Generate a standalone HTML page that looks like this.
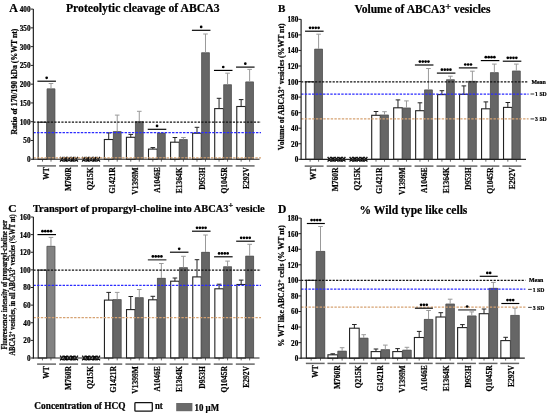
<!DOCTYPE html>
<html><head><meta charset="utf-8"><style>
html,body{margin:0;padding:0;background:#fff;}
svg{display:block;will-change:transform;filter:blur(0.3px);}
</style></head><body>
<svg width="550" height="415" viewBox="0 0 550 415">
<rect width="550" height="415" fill="#fff"/>
<line x1="30.75" y1="159.25" x2="33.35" y2="159.25" stroke="#222" stroke-width="1"/>
<text x="30.5" y="162.2" font-family="Liberation Serif, serif" font-weight="bold" stroke="#000" stroke-width="0.22" font-size="7.6" text-anchor="end" textLength="3.6" lengthAdjust="spacingAndGlyphs">0</text>
<line x1="30.75" y1="140.48" x2="33.35" y2="140.48" stroke="#222" stroke-width="1"/>
<text x="30.5" y="143.43" font-family="Liberation Serif, serif" font-weight="bold" stroke="#000" stroke-width="0.22" font-size="7.6" text-anchor="end" textLength="7.2" lengthAdjust="spacingAndGlyphs">50</text>
<line x1="30.75" y1="121.71" x2="33.35" y2="121.71" stroke="#222" stroke-width="1"/>
<text x="30.5" y="124.66" font-family="Liberation Serif, serif" font-weight="bold" stroke="#000" stroke-width="0.22" font-size="7.6" text-anchor="end" textLength="10.8" lengthAdjust="spacingAndGlyphs">100</text>
<line x1="30.75" y1="102.94" x2="33.35" y2="102.94" stroke="#222" stroke-width="1"/>
<text x="30.5" y="105.89" font-family="Liberation Serif, serif" font-weight="bold" stroke="#000" stroke-width="0.22" font-size="7.6" text-anchor="end" textLength="10.8" lengthAdjust="spacingAndGlyphs">150</text>
<line x1="30.75" y1="84.17" x2="33.35" y2="84.17" stroke="#222" stroke-width="1"/>
<text x="30.5" y="87.12" font-family="Liberation Serif, serif" font-weight="bold" stroke="#000" stroke-width="0.22" font-size="7.6" text-anchor="end" textLength="10.8" lengthAdjust="spacingAndGlyphs">200</text>
<line x1="30.75" y1="65.4" x2="33.35" y2="65.4" stroke="#222" stroke-width="1"/>
<text x="30.5" y="68.35" font-family="Liberation Serif, serif" font-weight="bold" stroke="#000" stroke-width="0.22" font-size="7.6" text-anchor="end" textLength="10.8" lengthAdjust="spacingAndGlyphs">250</text>
<line x1="30.75" y1="46.63" x2="33.35" y2="46.63" stroke="#222" stroke-width="1"/>
<text x="30.5" y="49.58" font-family="Liberation Serif, serif" font-weight="bold" stroke="#000" stroke-width="0.22" font-size="7.6" text-anchor="end" textLength="10.8" lengthAdjust="spacingAndGlyphs">300</text>
<line x1="30.75" y1="27.86" x2="33.35" y2="27.86" stroke="#222" stroke-width="1"/>
<text x="30.5" y="30.81" font-family="Liberation Serif, serif" font-weight="bold" stroke="#000" stroke-width="0.22" font-size="7.6" text-anchor="end" textLength="10.8" lengthAdjust="spacingAndGlyphs">350</text>
<line x1="30.75" y1="9.09" x2="33.35" y2="9.09" stroke="#222" stroke-width="1"/>
<text x="30.5" y="12.04" font-family="Liberation Serif, serif" font-weight="bold" stroke="#000" stroke-width="0.22" font-size="7.6" text-anchor="end" textLength="10.8" lengthAdjust="spacingAndGlyphs">400</text>
<rect x="38.15" y="122.2" width="8.7" height="37.05" fill="#fff" stroke="#222" stroke-width="1.1"/>
<rect x="46.85" y="88.6" width="8.3" height="70.65" fill="#666"/>
<path d="M47.15 159.25V88.9H54.85V159.25" stroke="#555" stroke-width="0.7" fill="none"/>
<path d="M51 88.6V83.5M48.7 83.5H53.3" stroke="#999" stroke-width="1" fill="none"/>
<path d="M60.12 156.85L63.34 161.65M60.12 161.65L63.34 156.85M63.74 156.85L66.96 161.65M63.74 161.65L66.96 156.85M67.36 156.85L70.58 161.65M67.36 161.65L70.58 156.85M70.98 156.85L74.2 161.65M70.98 161.65L74.2 156.85M74.6 156.85L77.82 161.65M74.6 161.65L77.82 156.85" stroke="#111" stroke-width="1.3" fill="none"/>
<ellipse cx="65.35" cy="159.45" rx="1.9" ry="2.1" fill="#000"/>
<ellipse cx="72.59" cy="159.45" rx="1.9" ry="2.1" fill="#000"/>
<path d="M82.19 156.85L85.41 161.65M82.19 161.65L85.41 156.85M85.81 156.85L89.03 161.65M85.81 161.65L89.03 156.85M89.43 156.85L92.65 161.65M89.43 161.65L92.65 156.85M93.05 156.85L96.27 161.65M93.05 161.65L96.27 156.85M96.67 156.85L99.89 161.65M96.67 161.65L99.89 156.85" stroke="#111" stroke-width="1.3" fill="none"/>
<ellipse cx="87.42" cy="159.45" rx="1.9" ry="2.1" fill="#000"/>
<ellipse cx="94.66" cy="159.45" rx="1.9" ry="2.1" fill="#000"/>
<rect x="104.36" y="139.5" width="8.7" height="19.75" fill="#fff" stroke="#222" stroke-width="1.1"/>
<rect x="113.06" y="131.3" width="8.3" height="27.95" fill="#666"/>
<path d="M113.36 159.25V131.6H121.06V159.25" stroke="#555" stroke-width="0.7" fill="none"/>
<path d="M108.71 139.5V132.9M106.41 132.9H111.01" stroke="#222" stroke-width="1" fill="none"/>
<path d="M117.21 131.3V115.1M114.91 115.1H119.51" stroke="#999" stroke-width="1" fill="none"/>
<rect x="126.43" y="137.3" width="8.7" height="21.95" fill="#fff" stroke="#222" stroke-width="1.1"/>
<rect x="135.13" y="121.4" width="8.3" height="37.85" fill="#666"/>
<path d="M135.43 159.25V121.7H143.13V159.25" stroke="#555" stroke-width="0.7" fill="none"/>
<path d="M130.78 137.3V134.4M128.48 134.4H133.08" stroke="#222" stroke-width="1" fill="none"/>
<path d="M139.28 121.4V111.3M136.98 111.3H141.58" stroke="#999" stroke-width="1" fill="none"/>
<rect x="148.5" y="149.1" width="8.7" height="10.15" fill="#fff" stroke="#222" stroke-width="1.1"/>
<rect x="157.2" y="132.9" width="8.3" height="26.35" fill="#666"/>
<path d="M157.5 159.25V133.2H165.2V159.25" stroke="#555" stroke-width="0.7" fill="none"/>
<path d="M152.85 149.1V147.6M150.55 147.6H155.15" stroke="#222" stroke-width="1" fill="none"/>
<rect x="170.57" y="142.2" width="8.7" height="17.05" fill="#fff" stroke="#222" stroke-width="1.1"/>
<rect x="179.27" y="139.3" width="8.3" height="19.95" fill="#666"/>
<path d="M179.57 159.25V139.6H187.27V159.25" stroke="#555" stroke-width="0.7" fill="none"/>
<path d="M174.92 142.2V137.5M172.62 137.5H177.22" stroke="#222" stroke-width="1" fill="none"/>
<path d="M183.42 139.3V137.5M181.12 137.5H185.72" stroke="#999" stroke-width="1" fill="none"/>
<rect x="192.64" y="133.2" width="8.7" height="26.05" fill="#fff" stroke="#222" stroke-width="1.1"/>
<rect x="201.34" y="52.5" width="8.3" height="106.75" fill="#666"/>
<path d="M201.64 159.25V52.8H209.34V159.25" stroke="#555" stroke-width="0.7" fill="none"/>
<path d="M196.99 133.2V127.3M194.69 127.3H199.29" stroke="#222" stroke-width="1" fill="none"/>
<path d="M205.49 52.5V34M203.19 34H207.79" stroke="#999" stroke-width="1" fill="none"/>
<rect x="214.71" y="108.6" width="8.7" height="50.65" fill="#fff" stroke="#222" stroke-width="1.1"/>
<rect x="223.41" y="84.5" width="8.3" height="74.75" fill="#666"/>
<path d="M223.71 159.25V84.8H231.41V159.25" stroke="#555" stroke-width="0.7" fill="none"/>
<path d="M219.06 108.6V98.3M216.76 98.3H221.36" stroke="#222" stroke-width="1" fill="none"/>
<path d="M227.56 84.5V73.2M225.26 73.2H229.86" stroke="#999" stroke-width="1" fill="none"/>
<rect x="236.78" y="106.5" width="8.7" height="52.75" fill="#fff" stroke="#222" stroke-width="1.1"/>
<rect x="245.48" y="81.7" width="8.3" height="77.55" fill="#666"/>
<path d="M245.78 159.25V82H253.48V159.25" stroke="#555" stroke-width="0.7" fill="none"/>
<path d="M241.13 106.5V99.6M238.83 99.6H243.43" stroke="#222" stroke-width="1" fill="none"/>
<path d="M249.63 81.7V69.4M247.33 69.4H251.93" stroke="#999" stroke-width="1" fill="none"/>
<path d="M42.5 159.25v2.4M51 159.25v2.4" stroke="#444" stroke-width="0.8"/>
<path d="M64.57 159.25v2.4M73.07 159.25v2.4" stroke="#444" stroke-width="0.8"/>
<path d="M86.64 159.25v2.4M95.14 159.25v2.4" stroke="#444" stroke-width="0.8"/>
<path d="M108.71 159.25v2.4M117.21 159.25v2.4" stroke="#444" stroke-width="0.8"/>
<path d="M130.78 159.25v2.4M139.28 159.25v2.4" stroke="#444" stroke-width="0.8"/>
<path d="M152.85 159.25v2.4M161.35 159.25v2.4" stroke="#444" stroke-width="0.8"/>
<path d="M174.92 159.25v2.4M183.42 159.25v2.4" stroke="#444" stroke-width="0.8"/>
<path d="M196.99 159.25v2.4M205.49 159.25v2.4" stroke="#444" stroke-width="0.8"/>
<path d="M219.06 159.25v2.4M227.56 159.25v2.4" stroke="#444" stroke-width="0.8"/>
<path d="M241.13 159.25v2.4M249.63 159.25v2.4" stroke="#444" stroke-width="0.8"/>
<line x1="33.35" y1="122.2" x2="261" y2="122.2" stroke="#111" stroke-width="1.25" stroke-dasharray="2.2 1.3"/>
<line x1="33.35" y1="132.5" x2="261" y2="132.5" stroke="#2a2aff" stroke-width="1.25" stroke-dasharray="2.4 1.25"/>
<line x1="33.35" y1="157.9" x2="261" y2="157.9" stroke="#d6a272" stroke-width="1.25" stroke-dasharray="2.4 1.3"/>
<line x1="33.35" y1="9.09" x2="33.35" y2="159.75" stroke="#222" stroke-width="1.2"/>
<line x1="32.75" y1="159.25" x2="259.5" y2="159.25" stroke="#222" stroke-width="1.2"/>
<line x1="37.4" y1="81.2" x2="55.95" y2="81.2" stroke="#000" stroke-width="1.15"/>
<circle cx="46.67" cy="77.8" r="1.35" fill="#000"/>
<line x1="147.75" y1="129.3" x2="166.3" y2="129.3" stroke="#000" stroke-width="1.15"/>
<circle cx="157.03" cy="125.9" r="1.35" fill="#000"/>
<line x1="191.89" y1="30.3" x2="210.44" y2="30.3" stroke="#000" stroke-width="1.15"/>
<circle cx="201.17" cy="26.9" r="1.35" fill="#000"/>
<line x1="213.96" y1="70.4" x2="232.51" y2="70.4" stroke="#000" stroke-width="1.15"/>
<circle cx="223.24" cy="67" r="1.35" fill="#000"/>
<line x1="236.03" y1="67.1" x2="254.58" y2="67.1" stroke="#000" stroke-width="1.15"/>
<circle cx="245.31" cy="63.7" r="1.35" fill="#000"/>
<line x1="37.05" y1="165.9" x2="55.95" y2="165.9" stroke="#666" stroke-width="1.5"/>
<text transform="translate(48.7,167.3) rotate(-90)" font-family="Liberation Serif, serif" font-weight="bold" stroke="#000" stroke-width="0.22" font-size="7.6" text-anchor="end" textLength="12.5" lengthAdjust="spacingAndGlyphs">WT</text>
<line x1="59.12" y1="165.9" x2="78.02" y2="165.9" stroke="#666" stroke-width="1.5"/>
<text transform="translate(70.96,167.3) rotate(-90)" font-family="Liberation Serif, serif" font-weight="bold" stroke="#000" stroke-width="0.22" font-size="7.6" text-anchor="end" textLength="23.75" lengthAdjust="spacingAndGlyphs">M760R</text>
<line x1="81.19" y1="165.9" x2="100.09" y2="165.9" stroke="#666" stroke-width="1.5"/>
<text transform="translate(93.22,167.3) rotate(-90)" font-family="Liberation Serif, serif" font-weight="bold" stroke="#000" stroke-width="0.22" font-size="7.6" text-anchor="end" textLength="22.92" lengthAdjust="spacingAndGlyphs">Q215K</text>
<line x1="103.26" y1="165.9" x2="122.16" y2="165.9" stroke="#666" stroke-width="1.5"/>
<text transform="translate(115.48,167.3) rotate(-90)" font-family="Liberation Serif, serif" font-weight="bold" stroke="#000" stroke-width="0.22" font-size="7.6" text-anchor="end" textLength="26.25" lengthAdjust="spacingAndGlyphs">G1421R</text>
<line x1="125.33" y1="165.9" x2="144.23" y2="165.9" stroke="#666" stroke-width="1.5"/>
<text transform="translate(137.74,167.3) rotate(-90)" font-family="Liberation Serif, serif" font-weight="bold" stroke="#000" stroke-width="0.22" font-size="7.6" text-anchor="end" textLength="27.49" lengthAdjust="spacingAndGlyphs">V1399M</text>
<line x1="147.4" y1="165.9" x2="166.3" y2="165.9" stroke="#666" stroke-width="1.5"/>
<text transform="translate(160,167.3) rotate(-90)" font-family="Liberation Serif, serif" font-weight="bold" stroke="#000" stroke-width="0.22" font-size="7.6" text-anchor="end" textLength="25.42" lengthAdjust="spacingAndGlyphs">A1046E</text>
<line x1="169.47" y1="165.9" x2="188.37" y2="165.9" stroke="#666" stroke-width="1.5"/>
<text transform="translate(182.26,167.3) rotate(-90)" font-family="Liberation Serif, serif" font-weight="bold" stroke="#000" stroke-width="0.22" font-size="7.6" text-anchor="end" textLength="25.84" lengthAdjust="spacingAndGlyphs">E1364K</text>
<line x1="191.54" y1="165.9" x2="210.44" y2="165.9" stroke="#666" stroke-width="1.5"/>
<text transform="translate(204.52,167.3) rotate(-90)" font-family="Liberation Serif, serif" font-weight="bold" stroke="#000" stroke-width="0.22" font-size="7.6" text-anchor="end" textLength="22.5" lengthAdjust="spacingAndGlyphs">D953H</text>
<line x1="213.61" y1="165.9" x2="232.51" y2="165.9" stroke="#666" stroke-width="1.5"/>
<text transform="translate(226.78,167.3) rotate(-90)" font-family="Liberation Serif, serif" font-weight="bold" stroke="#000" stroke-width="0.22" font-size="7.6" text-anchor="end" textLength="26.25" lengthAdjust="spacingAndGlyphs">Q1045R</text>
<line x1="235.68" y1="165.9" x2="254.58" y2="165.9" stroke="#666" stroke-width="1.5"/>
<text transform="translate(249.04,167.3) rotate(-90)" font-family="Liberation Serif, serif" font-weight="bold" stroke="#000" stroke-width="0.22" font-size="7.6" text-anchor="end" textLength="21.67" lengthAdjust="spacingAndGlyphs">E292V</text>
<line x1="298.5" y1="159.3" x2="301.1" y2="159.3" stroke="#222" stroke-width="1"/>
<text x="298.25" y="162.25" font-family="Liberation Serif, serif" font-weight="bold" stroke="#000" stroke-width="0.22" font-size="7.6" text-anchor="end" textLength="3.6" lengthAdjust="spacingAndGlyphs">0</text>
<line x1="298.5" y1="143.75" x2="301.1" y2="143.75" stroke="#222" stroke-width="1"/>
<text x="298.25" y="146.7" font-family="Liberation Serif, serif" font-weight="bold" stroke="#000" stroke-width="0.22" font-size="7.6" text-anchor="end" textLength="7.2" lengthAdjust="spacingAndGlyphs">20</text>
<line x1="298.5" y1="128.2" x2="301.1" y2="128.2" stroke="#222" stroke-width="1"/>
<text x="298.25" y="131.15" font-family="Liberation Serif, serif" font-weight="bold" stroke="#000" stroke-width="0.22" font-size="7.6" text-anchor="end" textLength="7.2" lengthAdjust="spacingAndGlyphs">40</text>
<line x1="298.5" y1="112.65" x2="301.1" y2="112.65" stroke="#222" stroke-width="1"/>
<text x="298.25" y="115.6" font-family="Liberation Serif, serif" font-weight="bold" stroke="#000" stroke-width="0.22" font-size="7.6" text-anchor="end" textLength="7.2" lengthAdjust="spacingAndGlyphs">60</text>
<line x1="298.5" y1="97.1" x2="301.1" y2="97.1" stroke="#222" stroke-width="1"/>
<text x="298.25" y="100.05" font-family="Liberation Serif, serif" font-weight="bold" stroke="#000" stroke-width="0.22" font-size="7.6" text-anchor="end" textLength="7.2" lengthAdjust="spacingAndGlyphs">80</text>
<line x1="298.5" y1="81.55" x2="301.1" y2="81.55" stroke="#222" stroke-width="1"/>
<text x="298.25" y="84.5" font-family="Liberation Serif, serif" font-weight="bold" stroke="#000" stroke-width="0.22" font-size="7.6" text-anchor="end" textLength="10.8" lengthAdjust="spacingAndGlyphs">100</text>
<line x1="298.5" y1="66" x2="301.1" y2="66" stroke="#222" stroke-width="1"/>
<text x="298.25" y="68.95" font-family="Liberation Serif, serif" font-weight="bold" stroke="#000" stroke-width="0.22" font-size="7.6" text-anchor="end" textLength="10.8" lengthAdjust="spacingAndGlyphs">120</text>
<line x1="298.5" y1="50.45" x2="301.1" y2="50.45" stroke="#222" stroke-width="1"/>
<text x="298.25" y="53.4" font-family="Liberation Serif, serif" font-weight="bold" stroke="#000" stroke-width="0.22" font-size="7.6" text-anchor="end" textLength="10.8" lengthAdjust="spacingAndGlyphs">140</text>
<line x1="298.5" y1="34.9" x2="301.1" y2="34.9" stroke="#222" stroke-width="1"/>
<text x="298.25" y="37.85" font-family="Liberation Serif, serif" font-weight="bold" stroke="#000" stroke-width="0.22" font-size="7.6" text-anchor="end" textLength="10.8" lengthAdjust="spacingAndGlyphs">160</text>
<line x1="298.5" y1="19.35" x2="301.1" y2="19.35" stroke="#222" stroke-width="1"/>
<text x="298.25" y="22.3" font-family="Liberation Serif, serif" font-weight="bold" stroke="#000" stroke-width="0.22" font-size="7.6" text-anchor="end" textLength="10.8" lengthAdjust="spacingAndGlyphs">180</text>
<rect x="305.8" y="81.8" width="8.6" height="77.5" fill="#fff" stroke="#222" stroke-width="1.1"/>
<rect x="314.4" y="48.9" width="8.4" height="110.4" fill="#666"/>
<path d="M314.7 159.3V49.2H322.5V159.3" stroke="#555" stroke-width="0.7" fill="none"/>
<path d="M318.6 48.9V34.2M316.3 34.2H320.9" stroke="#999" stroke-width="1" fill="none"/>
<path d="M327.67 156.9L330.89 161.7M327.67 161.7L330.89 156.9M331.29 156.9L334.51 161.7M331.29 161.7L334.51 156.9M334.91 156.9L338.13 161.7M334.91 161.7L338.13 156.9M338.53 156.9L341.75 161.7M338.53 161.7L341.75 156.9M342.15 156.9L345.37 161.7M342.15 161.7L345.37 156.9" stroke="#111" stroke-width="1.3" fill="none"/>
<ellipse cx="332.9" cy="159.5" rx="1.9" ry="2.1" fill="#000"/>
<ellipse cx="340.14" cy="159.5" rx="1.9" ry="2.1" fill="#000"/>
<path d="M349.64 156.9L352.86 161.7M349.64 161.7L352.86 156.9M353.26 156.9L356.48 161.7M353.26 161.7L356.48 156.9M356.88 156.9L360.1 161.7M356.88 161.7L360.1 156.9M360.5 156.9L363.72 161.7M360.5 161.7L363.72 156.9M364.12 156.9L367.34 161.7M364.12 161.7L367.34 156.9" stroke="#111" stroke-width="1.3" fill="none"/>
<ellipse cx="354.87" cy="159.5" rx="1.9" ry="2.1" fill="#000"/>
<ellipse cx="362.11" cy="159.5" rx="1.9" ry="2.1" fill="#000"/>
<rect x="371.71" y="115.3" width="8.6" height="44" fill="#fff" stroke="#222" stroke-width="1.1"/>
<rect x="380.31" y="114.8" width="8.4" height="44.5" fill="#666"/>
<path d="M380.61 159.3V115.1H388.41V159.3" stroke="#555" stroke-width="0.7" fill="none"/>
<path d="M376.01 115.3V111.5M373.71 111.5H378.31" stroke="#222" stroke-width="1" fill="none"/>
<path d="M384.51 114.8V111.7M382.21 111.7H386.81" stroke="#999" stroke-width="1" fill="none"/>
<rect x="393.68" y="107.8" width="8.6" height="51.5" fill="#fff" stroke="#222" stroke-width="1.1"/>
<rect x="402.28" y="107.8" width="8.4" height="51.5" fill="#666"/>
<path d="M402.58 159.3V108.1H410.38V159.3" stroke="#555" stroke-width="0.7" fill="none"/>
<path d="M397.98 107.8V99.9M395.68 99.9H400.28" stroke="#222" stroke-width="1" fill="none"/>
<path d="M406.48 107.8V100.9M404.18 100.9H408.78" stroke="#999" stroke-width="1" fill="none"/>
<rect x="415.65" y="110.7" width="8.6" height="48.6" fill="#fff" stroke="#222" stroke-width="1.1"/>
<rect x="424.25" y="89.7" width="8.4" height="69.6" fill="#666"/>
<path d="M424.55 159.3V90H432.35V159.3" stroke="#555" stroke-width="0.7" fill="none"/>
<path d="M419.95 110.7V102.8M417.65 102.8H422.25" stroke="#222" stroke-width="1" fill="none"/>
<path d="M428.45 89.7V68.5M426.15 68.5H430.75" stroke="#999" stroke-width="1" fill="none"/>
<rect x="437.62" y="94.6" width="8.6" height="64.7" fill="#fff" stroke="#222" stroke-width="1.1"/>
<rect x="446.22" y="79.5" width="8.4" height="79.8" fill="#666"/>
<path d="M446.52 159.3V79.8H454.32V159.3" stroke="#555" stroke-width="0.7" fill="none"/>
<path d="M441.92 94.6V90.7M439.62 90.7H444.22" stroke="#222" stroke-width="1" fill="none"/>
<path d="M450.42 79.5V76.2M448.12 76.2H452.72" stroke="#999" stroke-width="1" fill="none"/>
<rect x="459.59" y="94.3" width="8.6" height="65" fill="#fff" stroke="#222" stroke-width="1.1"/>
<rect x="468.19" y="81" width="8.4" height="78.3" fill="#666"/>
<path d="M468.49 159.3V81.3H476.29V159.3" stroke="#555" stroke-width="0.7" fill="none"/>
<path d="M463.89 94.3V85.9M461.59 85.9H466.19" stroke="#222" stroke-width="1" fill="none"/>
<path d="M472.39 81V71.2M470.09 71.2H474.69" stroke="#999" stroke-width="1" fill="none"/>
<rect x="481.56" y="108.8" width="8.6" height="50.5" fill="#fff" stroke="#222" stroke-width="1.1"/>
<rect x="490.16" y="72.4" width="8.4" height="86.9" fill="#666"/>
<path d="M490.46 159.3V72.7H498.26V159.3" stroke="#555" stroke-width="0.7" fill="none"/>
<path d="M485.86 108.8V101.9M483.56 101.9H488.16" stroke="#222" stroke-width="1" fill="none"/>
<path d="M494.36 72.4V64.1M492.06 64.1H496.66" stroke="#999" stroke-width="1" fill="none"/>
<rect x="503.53" y="107.4" width="8.6" height="51.9" fill="#fff" stroke="#222" stroke-width="1.1"/>
<rect x="512.13" y="70.8" width="8.4" height="88.5" fill="#666"/>
<path d="M512.43 159.3V71.1H520.23V159.3" stroke="#555" stroke-width="0.7" fill="none"/>
<path d="M507.83 107.4V102.5M505.53 102.5H510.13" stroke="#222" stroke-width="1" fill="none"/>
<path d="M516.33 70.8V64.1M514.03 64.1H518.63" stroke="#999" stroke-width="1" fill="none"/>
<path d="M310.1 159.3v2.4M318.6 159.3v2.4" stroke="#444" stroke-width="0.8"/>
<path d="M332.07 159.3v2.4M340.57 159.3v2.4" stroke="#444" stroke-width="0.8"/>
<path d="M354.04 159.3v2.4M362.54 159.3v2.4" stroke="#444" stroke-width="0.8"/>
<path d="M376.01 159.3v2.4M384.51 159.3v2.4" stroke="#444" stroke-width="0.8"/>
<path d="M397.98 159.3v2.4M406.48 159.3v2.4" stroke="#444" stroke-width="0.8"/>
<path d="M419.95 159.3v2.4M428.45 159.3v2.4" stroke="#444" stroke-width="0.8"/>
<path d="M441.92 159.3v2.4M450.42 159.3v2.4" stroke="#444" stroke-width="0.8"/>
<path d="M463.89 159.3v2.4M472.39 159.3v2.4" stroke="#444" stroke-width="0.8"/>
<path d="M485.86 159.3v2.4M494.36 159.3v2.4" stroke="#444" stroke-width="0.8"/>
<path d="M507.83 159.3v2.4M516.33 159.3v2.4" stroke="#444" stroke-width="0.8"/>
<line x1="301.1" y1="81.8" x2="528.6" y2="81.8" stroke="#111" stroke-width="1.25" stroke-dasharray="2.2 1.3"/>
<line x1="301.1" y1="94" x2="528.6" y2="94" stroke="#2a2aff" stroke-width="1.25" stroke-dasharray="2.4 1.25"/>
<line x1="301.1" y1="118.9" x2="528.6" y2="118.9" stroke="#d6a272" stroke-width="1.25" stroke-dasharray="2.4 1.3"/>
<line x1="301.1" y1="19.35" x2="301.1" y2="159.8" stroke="#222" stroke-width="1.2"/>
<line x1="300.5" y1="159.3" x2="526" y2="159.3" stroke="#222" stroke-width="1.2"/>
<line x1="305.05" y1="31.2" x2="323.6" y2="31.2" stroke="#000" stroke-width="1.15"/>
<circle cx="310.05" cy="27.8" r="1.35" fill="#000"/>
<circle cx="312.9" cy="27.8" r="1.35" fill="#000"/>
<circle cx="315.75" cy="27.8" r="1.35" fill="#000"/>
<circle cx="318.6" cy="27.8" r="1.35" fill="#000"/>
<line x1="414.9" y1="65" x2="433.45" y2="65" stroke="#000" stroke-width="1.15"/>
<circle cx="419.9" cy="61.6" r="1.35" fill="#000"/>
<circle cx="422.75" cy="61.6" r="1.35" fill="#000"/>
<circle cx="425.6" cy="61.6" r="1.35" fill="#000"/>
<circle cx="428.45" cy="61.6" r="1.35" fill="#000"/>
<line x1="436.87" y1="73.1" x2="455.42" y2="73.1" stroke="#000" stroke-width="1.15"/>
<circle cx="441.87" cy="69.7" r="1.35" fill="#000"/>
<circle cx="444.72" cy="69.7" r="1.35" fill="#000"/>
<circle cx="447.57" cy="69.7" r="1.35" fill="#000"/>
<circle cx="450.42" cy="69.7" r="1.35" fill="#000"/>
<line x1="458.84" y1="67.9" x2="477.39" y2="67.9" stroke="#000" stroke-width="1.15"/>
<circle cx="465.26" cy="64.5" r="1.35" fill="#000"/>
<circle cx="468.12" cy="64.5" r="1.35" fill="#000"/>
<circle cx="470.97" cy="64.5" r="1.35" fill="#000"/>
<line x1="480.81" y1="60.6" x2="499.36" y2="60.6" stroke="#000" stroke-width="1.15"/>
<circle cx="485.81" cy="57.2" r="1.35" fill="#000"/>
<circle cx="488.66" cy="57.2" r="1.35" fill="#000"/>
<circle cx="491.51" cy="57.2" r="1.35" fill="#000"/>
<circle cx="494.36" cy="57.2" r="1.35" fill="#000"/>
<line x1="502.78" y1="61.2" x2="521.33" y2="61.2" stroke="#000" stroke-width="1.15"/>
<circle cx="507.78" cy="57.8" r="1.35" fill="#000"/>
<circle cx="510.63" cy="57.8" r="1.35" fill="#000"/>
<circle cx="513.48" cy="57.8" r="1.35" fill="#000"/>
<circle cx="516.33" cy="57.8" r="1.35" fill="#000"/>
<line x1="304.7" y1="166.1" x2="323.6" y2="166.1" stroke="#666" stroke-width="1.5"/>
<text transform="translate(316.4,167.5) rotate(-90)" font-family="Liberation Serif, serif" font-weight="bold" stroke="#000" stroke-width="0.22" font-size="7.6" text-anchor="end" textLength="12.5" lengthAdjust="spacingAndGlyphs">WT</text>
<line x1="326.67" y1="166.1" x2="345.57" y2="166.1" stroke="#666" stroke-width="1.5"/>
<text transform="translate(338.43,167.5) rotate(-90)" font-family="Liberation Serif, serif" font-weight="bold" stroke="#000" stroke-width="0.22" font-size="7.6" text-anchor="end" textLength="23.75" lengthAdjust="spacingAndGlyphs">M760R</text>
<line x1="348.64" y1="166.1" x2="367.54" y2="166.1" stroke="#666" stroke-width="1.5"/>
<text transform="translate(360.46,167.5) rotate(-90)" font-family="Liberation Serif, serif" font-weight="bold" stroke="#000" stroke-width="0.22" font-size="7.6" text-anchor="end" textLength="22.92" lengthAdjust="spacingAndGlyphs">Q215K</text>
<line x1="370.61" y1="166.1" x2="389.51" y2="166.1" stroke="#666" stroke-width="1.5"/>
<text transform="translate(382.49,167.5) rotate(-90)" font-family="Liberation Serif, serif" font-weight="bold" stroke="#000" stroke-width="0.22" font-size="7.6" text-anchor="end" textLength="26.25" lengthAdjust="spacingAndGlyphs">G1421R</text>
<line x1="392.58" y1="166.1" x2="411.48" y2="166.1" stroke="#666" stroke-width="1.5"/>
<text transform="translate(404.52,167.5) rotate(-90)" font-family="Liberation Serif, serif" font-weight="bold" stroke="#000" stroke-width="0.22" font-size="7.6" text-anchor="end" textLength="27.49" lengthAdjust="spacingAndGlyphs">V1399M</text>
<line x1="414.55" y1="166.1" x2="433.45" y2="166.1" stroke="#666" stroke-width="1.5"/>
<text transform="translate(426.55,167.5) rotate(-90)" font-family="Liberation Serif, serif" font-weight="bold" stroke="#000" stroke-width="0.22" font-size="7.6" text-anchor="end" textLength="25.42" lengthAdjust="spacingAndGlyphs">A1046E</text>
<line x1="436.52" y1="166.1" x2="455.42" y2="166.1" stroke="#666" stroke-width="1.5"/>
<text transform="translate(448.58,167.5) rotate(-90)" font-family="Liberation Serif, serif" font-weight="bold" stroke="#000" stroke-width="0.22" font-size="7.6" text-anchor="end" textLength="25.84" lengthAdjust="spacingAndGlyphs">E1364K</text>
<line x1="458.49" y1="166.1" x2="477.39" y2="166.1" stroke="#666" stroke-width="1.5"/>
<text transform="translate(470.61,167.5) rotate(-90)" font-family="Liberation Serif, serif" font-weight="bold" stroke="#000" stroke-width="0.22" font-size="7.6" text-anchor="end" textLength="22.5" lengthAdjust="spacingAndGlyphs">D953H</text>
<line x1="480.46" y1="166.1" x2="499.36" y2="166.1" stroke="#666" stroke-width="1.5"/>
<text transform="translate(492.64,167.5) rotate(-90)" font-family="Liberation Serif, serif" font-weight="bold" stroke="#000" stroke-width="0.22" font-size="7.6" text-anchor="end" textLength="26.25" lengthAdjust="spacingAndGlyphs">Q1045R</text>
<line x1="502.43" y1="166.1" x2="521.33" y2="166.1" stroke="#666" stroke-width="1.5"/>
<text transform="translate(514.67,167.5) rotate(-90)" font-family="Liberation Serif, serif" font-weight="bold" stroke="#000" stroke-width="0.22" font-size="7.6" text-anchor="end" textLength="21.67" lengthAdjust="spacingAndGlyphs">E292V</text>
<line x1="30.8" y1="358" x2="33.4" y2="358" stroke="#222" stroke-width="1"/>
<text x="30.55" y="360.95" font-family="Liberation Serif, serif" font-weight="bold" stroke="#000" stroke-width="0.22" font-size="7.6" text-anchor="end" textLength="3.6" lengthAdjust="spacingAndGlyphs">0</text>
<line x1="30.8" y1="340.38" x2="33.4" y2="340.38" stroke="#222" stroke-width="1"/>
<text x="30.55" y="343.32" font-family="Liberation Serif, serif" font-weight="bold" stroke="#000" stroke-width="0.22" font-size="7.6" text-anchor="end" textLength="7.2" lengthAdjust="spacingAndGlyphs">20</text>
<line x1="30.8" y1="322.75" x2="33.4" y2="322.75" stroke="#222" stroke-width="1"/>
<text x="30.55" y="325.7" font-family="Liberation Serif, serif" font-weight="bold" stroke="#000" stroke-width="0.22" font-size="7.6" text-anchor="end" textLength="7.2" lengthAdjust="spacingAndGlyphs">40</text>
<line x1="30.8" y1="305.12" x2="33.4" y2="305.12" stroke="#222" stroke-width="1"/>
<text x="30.55" y="308.07" font-family="Liberation Serif, serif" font-weight="bold" stroke="#000" stroke-width="0.22" font-size="7.6" text-anchor="end" textLength="7.2" lengthAdjust="spacingAndGlyphs">60</text>
<line x1="30.8" y1="287.5" x2="33.4" y2="287.5" stroke="#222" stroke-width="1"/>
<text x="30.55" y="290.45" font-family="Liberation Serif, serif" font-weight="bold" stroke="#000" stroke-width="0.22" font-size="7.6" text-anchor="end" textLength="7.2" lengthAdjust="spacingAndGlyphs">80</text>
<line x1="30.8" y1="269.88" x2="33.4" y2="269.88" stroke="#222" stroke-width="1"/>
<text x="30.55" y="272.82" font-family="Liberation Serif, serif" font-weight="bold" stroke="#000" stroke-width="0.22" font-size="7.6" text-anchor="end" textLength="10.8" lengthAdjust="spacingAndGlyphs">100</text>
<line x1="30.8" y1="252.25" x2="33.4" y2="252.25" stroke="#222" stroke-width="1"/>
<text x="30.55" y="255.2" font-family="Liberation Serif, serif" font-weight="bold" stroke="#000" stroke-width="0.22" font-size="7.6" text-anchor="end" textLength="10.8" lengthAdjust="spacingAndGlyphs">120</text>
<line x1="30.8" y1="234.62" x2="33.4" y2="234.62" stroke="#222" stroke-width="1"/>
<text x="30.55" y="237.57" font-family="Liberation Serif, serif" font-weight="bold" stroke="#000" stroke-width="0.22" font-size="7.6" text-anchor="end" textLength="10.8" lengthAdjust="spacingAndGlyphs">140</text>
<line x1="30.8" y1="217" x2="33.4" y2="217" stroke="#222" stroke-width="1"/>
<text x="30.55" y="219.95" font-family="Liberation Serif, serif" font-weight="bold" stroke="#000" stroke-width="0.22" font-size="7.6" text-anchor="end" textLength="10.8" lengthAdjust="spacingAndGlyphs">160</text>
<rect x="38.2" y="270.1" width="8.5" height="87.9" fill="#fff" stroke="#222" stroke-width="1.1"/>
<rect x="46.7" y="246" width="8.5" height="112" fill="#828282"/>
<path d="M47 358V246.3H54.9V358" stroke="#555" stroke-width="0.7" fill="none"/>
<path d="M50.95 246V237.4M48.65 237.4H53.25" stroke="#999" stroke-width="1" fill="none"/>
<path d="M60.18 355.6L63.4 360.4M60.18 360.4L63.4 355.6M63.8 355.6L67.02 360.4M63.8 360.4L67.02 355.6M67.42 355.6L70.64 360.4M67.42 360.4L70.64 355.6M71.04 355.6L74.26 360.4M71.04 360.4L74.26 355.6M74.66 355.6L77.88 360.4M74.66 360.4L77.88 355.6" stroke="#111" stroke-width="1.3" fill="none"/>
<ellipse cx="65.41" cy="358.2" rx="1.9" ry="2.1" fill="#000"/>
<ellipse cx="72.65" cy="358.2" rx="1.9" ry="2.1" fill="#000"/>
<path d="M82.26 355.6L85.48 360.4M82.26 360.4L85.48 355.6M85.88 355.6L89.1 360.4M85.88 360.4L89.1 355.6M89.5 355.6L92.72 360.4M89.5 360.4L92.72 355.6M93.12 355.6L96.34 360.4M93.12 360.4L96.34 355.6M96.74 355.6L99.96 360.4M96.74 360.4L99.96 355.6" stroke="#111" stroke-width="1.3" fill="none"/>
<ellipse cx="87.49" cy="358.2" rx="1.9" ry="2.1" fill="#000"/>
<ellipse cx="94.73" cy="358.2" rx="1.9" ry="2.1" fill="#000"/>
<rect x="104.44" y="300.1" width="8.5" height="57.9" fill="#fff" stroke="#222" stroke-width="1.1"/>
<rect x="112.94" y="299.3" width="8.5" height="58.7" fill="#666"/>
<path d="M113.24 358V299.6H121.14V358" stroke="#555" stroke-width="0.7" fill="none"/>
<path d="M108.69 300.1V292.4M106.39 292.4H110.99" stroke="#222" stroke-width="1" fill="none"/>
<path d="M117.19 299.3V292.4M114.89 292.4H119.49" stroke="#999" stroke-width="1" fill="none"/>
<rect x="126.52" y="309.6" width="8.5" height="48.4" fill="#fff" stroke="#222" stroke-width="1.1"/>
<rect x="135.02" y="297.4" width="8.5" height="60.6" fill="#666"/>
<path d="M135.32 358V297.7H143.22V358" stroke="#555" stroke-width="0.7" fill="none"/>
<path d="M130.77 309.6V296.5M128.47 296.5H133.07" stroke="#222" stroke-width="1" fill="none"/>
<path d="M139.27 297.4V289.5M136.97 289.5H141.57" stroke="#999" stroke-width="1" fill="none"/>
<rect x="148.6" y="299.8" width="8.5" height="58.2" fill="#fff" stroke="#222" stroke-width="1.1"/>
<rect x="157.1" y="278" width="8.5" height="80" fill="#666"/>
<path d="M157.4 358V278.3H165.3V358" stroke="#555" stroke-width="0.7" fill="none"/>
<path d="M152.85 299.8V296.3M150.55 296.3H155.15" stroke="#222" stroke-width="1" fill="none"/>
<path d="M161.35 278V263.5M159.05 263.5H163.65" stroke="#999" stroke-width="1" fill="none"/>
<rect x="170.68" y="281.2" width="8.5" height="76.8" fill="#fff" stroke="#222" stroke-width="1.1"/>
<rect x="179.18" y="267.4" width="8.5" height="90.6" fill="#666"/>
<path d="M179.48 358V267.7H187.38V358" stroke="#555" stroke-width="0.7" fill="none"/>
<path d="M174.93 281.2V278M172.63 278H177.23" stroke="#222" stroke-width="1" fill="none"/>
<path d="M183.43 267.4V256.3M181.13 256.3H185.73" stroke="#999" stroke-width="1" fill="none"/>
<rect x="192.76" y="276.9" width="8.5" height="81.1" fill="#fff" stroke="#222" stroke-width="1.1"/>
<rect x="201.26" y="252" width="8.5" height="106" fill="#666"/>
<path d="M201.56 358V252.3H209.46V358" stroke="#555" stroke-width="0.7" fill="none"/>
<path d="M197.01 276.9V259.7M194.71 259.7H199.31" stroke="#222" stroke-width="1" fill="none"/>
<path d="M205.51 252V235M203.21 235H207.81" stroke="#999" stroke-width="1" fill="none"/>
<rect x="214.84" y="288.8" width="8.5" height="69.2" fill="#fff" stroke="#222" stroke-width="1.1"/>
<rect x="223.34" y="266.5" width="8.5" height="91.5" fill="#666"/>
<path d="M223.64 358V266.8H231.54V358" stroke="#555" stroke-width="0.7" fill="none"/>
<path d="M219.09 288.8V284.2M216.79 284.2H221.39" stroke="#222" stroke-width="1" fill="none"/>
<path d="M227.59 266.5V261.1M225.29 261.1H229.89" stroke="#999" stroke-width="1" fill="none"/>
<rect x="236.92" y="284.5" width="8.5" height="73.5" fill="#fff" stroke="#222" stroke-width="1.1"/>
<rect x="245.42" y="255.9" width="8.5" height="102.1" fill="#666"/>
<path d="M245.72 358V256.2H253.62V358" stroke="#555" stroke-width="0.7" fill="none"/>
<path d="M241.17 284.5V280.1M238.87 280.1H243.47" stroke="#222" stroke-width="1" fill="none"/>
<path d="M249.67 255.9V244.3M247.37 244.3H251.97" stroke="#999" stroke-width="1" fill="none"/>
<path d="M42.45 358v2.4M50.95 358v2.4" stroke="#444" stroke-width="0.8"/>
<path d="M64.53 358v2.4M73.03 358v2.4" stroke="#444" stroke-width="0.8"/>
<path d="M86.61 358v2.4M95.11 358v2.4" stroke="#444" stroke-width="0.8"/>
<path d="M108.69 358v2.4M117.19 358v2.4" stroke="#444" stroke-width="0.8"/>
<path d="M130.77 358v2.4M139.27 358v2.4" stroke="#444" stroke-width="0.8"/>
<path d="M152.85 358v2.4M161.35 358v2.4" stroke="#444" stroke-width="0.8"/>
<path d="M174.93 358v2.4M183.43 358v2.4" stroke="#444" stroke-width="0.8"/>
<path d="M197.01 358v2.4M205.51 358v2.4" stroke="#444" stroke-width="0.8"/>
<path d="M219.09 358v2.4M227.59 358v2.4" stroke="#444" stroke-width="0.8"/>
<path d="M241.17 358v2.4M249.67 358v2.4" stroke="#444" stroke-width="0.8"/>
<line x1="33.4" y1="270.1" x2="261" y2="270.1" stroke="#111" stroke-width="1.25" stroke-dasharray="2.2 1.3"/>
<line x1="33.4" y1="285.4" x2="261" y2="285.4" stroke="#2a2aff" stroke-width="1.25" stroke-dasharray="2.4 1.25"/>
<line x1="33.4" y1="317.6" x2="261" y2="317.6" stroke="#d6a272" stroke-width="1.25" stroke-dasharray="2.4 1.3"/>
<line x1="33.4" y1="217" x2="33.4" y2="358.5" stroke="#222" stroke-width="1.2"/>
<line x1="32.8" y1="358" x2="259.5" y2="358" stroke="#222" stroke-width="1.2"/>
<line x1="37.45" y1="234.6" x2="56" y2="234.6" stroke="#000" stroke-width="1.15"/>
<circle cx="42.45" cy="231.2" r="1.35" fill="#000"/>
<circle cx="45.3" cy="231.2" r="1.35" fill="#000"/>
<circle cx="48.15" cy="231.2" r="1.35" fill="#000"/>
<circle cx="51" cy="231.2" r="1.35" fill="#000"/>
<line x1="147.85" y1="259.8" x2="166.4" y2="259.8" stroke="#666" stroke-width="1.6"/>
<circle cx="152.85" cy="256.4" r="1.35" fill="#000"/>
<circle cx="155.7" cy="256.4" r="1.35" fill="#000"/>
<circle cx="158.55" cy="256.4" r="1.35" fill="#000"/>
<circle cx="161.4" cy="256.4" r="1.35" fill="#000"/>
<line x1="169.93" y1="252.2" x2="188.48" y2="252.2" stroke="#000" stroke-width="1.15"/>
<circle cx="179.21" cy="248.8" r="1.35" fill="#000"/>
<line x1="192.01" y1="231.2" x2="210.56" y2="231.2" stroke="#000" stroke-width="1.15"/>
<circle cx="197.01" cy="227.8" r="1.35" fill="#000"/>
<circle cx="199.86" cy="227.8" r="1.35" fill="#000"/>
<circle cx="202.71" cy="227.8" r="1.35" fill="#000"/>
<circle cx="205.56" cy="227.8" r="1.35" fill="#000"/>
<line x1="214.09" y1="256.8" x2="232.64" y2="256.8" stroke="#000" stroke-width="1.15"/>
<circle cx="219.09" cy="253.4" r="1.35" fill="#000"/>
<circle cx="221.94" cy="253.4" r="1.35" fill="#000"/>
<circle cx="224.79" cy="253.4" r="1.35" fill="#000"/>
<circle cx="227.64" cy="253.4" r="1.35" fill="#000"/>
<line x1="236.17" y1="241.2" x2="254.72" y2="241.2" stroke="#000" stroke-width="1.15"/>
<circle cx="241.17" cy="237.8" r="1.35" fill="#000"/>
<circle cx="244.02" cy="237.8" r="1.35" fill="#000"/>
<circle cx="246.87" cy="237.8" r="1.35" fill="#000"/>
<circle cx="249.72" cy="237.8" r="1.35" fill="#000"/>
<line x1="37.1" y1="364.1" x2="56" y2="364.1" stroke="#666" stroke-width="1.5"/>
<text transform="translate(48.8,366.2) rotate(-90)" font-family="Liberation Serif, serif" font-weight="bold" stroke="#000" stroke-width="0.22" font-size="7.6" text-anchor="end" textLength="12.5" lengthAdjust="spacingAndGlyphs">WT</text>
<line x1="59.18" y1="364.1" x2="78.08" y2="364.1" stroke="#666" stroke-width="1.5"/>
<text transform="translate(71.06,366.2) rotate(-90)" font-family="Liberation Serif, serif" font-weight="bold" stroke="#000" stroke-width="0.22" font-size="7.6" text-anchor="end" textLength="23.75" lengthAdjust="spacingAndGlyphs">M760R</text>
<line x1="81.26" y1="364.1" x2="100.16" y2="364.1" stroke="#666" stroke-width="1.5"/>
<text transform="translate(93.32,366.2) rotate(-90)" font-family="Liberation Serif, serif" font-weight="bold" stroke="#000" stroke-width="0.22" font-size="7.6" text-anchor="end" textLength="22.92" lengthAdjust="spacingAndGlyphs">Q215K</text>
<line x1="103.34" y1="364.1" x2="122.24" y2="364.1" stroke="#666" stroke-width="1.5"/>
<text transform="translate(115.58,366.2) rotate(-90)" font-family="Liberation Serif, serif" font-weight="bold" stroke="#000" stroke-width="0.22" font-size="7.6" text-anchor="end" textLength="26.25" lengthAdjust="spacingAndGlyphs">G1421R</text>
<line x1="125.42" y1="364.1" x2="144.32" y2="364.1" stroke="#666" stroke-width="1.5"/>
<text transform="translate(137.84,366.2) rotate(-90)" font-family="Liberation Serif, serif" font-weight="bold" stroke="#000" stroke-width="0.22" font-size="7.6" text-anchor="end" textLength="27.49" lengthAdjust="spacingAndGlyphs">V1399M</text>
<line x1="147.5" y1="364.1" x2="166.4" y2="364.1" stroke="#666" stroke-width="1.5"/>
<text transform="translate(160.1,366.2) rotate(-90)" font-family="Liberation Serif, serif" font-weight="bold" stroke="#000" stroke-width="0.22" font-size="7.6" text-anchor="end" textLength="25.42" lengthAdjust="spacingAndGlyphs">A1046E</text>
<line x1="169.58" y1="364.1" x2="188.48" y2="364.1" stroke="#666" stroke-width="1.5"/>
<text transform="translate(182.36,366.2) rotate(-90)" font-family="Liberation Serif, serif" font-weight="bold" stroke="#000" stroke-width="0.22" font-size="7.6" text-anchor="end" textLength="25.84" lengthAdjust="spacingAndGlyphs">E1364K</text>
<line x1="191.66" y1="364.1" x2="210.56" y2="364.1" stroke="#666" stroke-width="1.5"/>
<text transform="translate(204.62,366.2) rotate(-90)" font-family="Liberation Serif, serif" font-weight="bold" stroke="#000" stroke-width="0.22" font-size="7.6" text-anchor="end" textLength="22.5" lengthAdjust="spacingAndGlyphs">D953H</text>
<line x1="213.74" y1="364.1" x2="232.64" y2="364.1" stroke="#666" stroke-width="1.5"/>
<text transform="translate(226.88,366.2) rotate(-90)" font-family="Liberation Serif, serif" font-weight="bold" stroke="#000" stroke-width="0.22" font-size="7.6" text-anchor="end" textLength="26.25" lengthAdjust="spacingAndGlyphs">Q1045R</text>
<line x1="235.82" y1="364.1" x2="254.72" y2="364.1" stroke="#666" stroke-width="1.5"/>
<text transform="translate(249.14,366.2) rotate(-90)" font-family="Liberation Serif, serif" font-weight="bold" stroke="#000" stroke-width="0.22" font-size="7.6" text-anchor="end" textLength="21.67" lengthAdjust="spacingAndGlyphs">E292V</text>
<line x1="298.5" y1="358.2" x2="301.1" y2="358.2" stroke="#222" stroke-width="1"/>
<text x="298.25" y="361.15" font-family="Liberation Serif, serif" font-weight="bold" stroke="#000" stroke-width="0.22" font-size="7.6" text-anchor="end" textLength="3.6" lengthAdjust="spacingAndGlyphs">0</text>
<line x1="298.5" y1="342.63" x2="301.1" y2="342.63" stroke="#222" stroke-width="1"/>
<text x="298.25" y="345.58" font-family="Liberation Serif, serif" font-weight="bold" stroke="#000" stroke-width="0.22" font-size="7.6" text-anchor="end" textLength="7.2" lengthAdjust="spacingAndGlyphs">20</text>
<line x1="298.5" y1="327.07" x2="301.1" y2="327.07" stroke="#222" stroke-width="1"/>
<text x="298.25" y="330.02" font-family="Liberation Serif, serif" font-weight="bold" stroke="#000" stroke-width="0.22" font-size="7.6" text-anchor="end" textLength="7.2" lengthAdjust="spacingAndGlyphs">40</text>
<line x1="298.5" y1="311.5" x2="301.1" y2="311.5" stroke="#222" stroke-width="1"/>
<text x="298.25" y="314.45" font-family="Liberation Serif, serif" font-weight="bold" stroke="#000" stroke-width="0.22" font-size="7.6" text-anchor="end" textLength="7.2" lengthAdjust="spacingAndGlyphs">60</text>
<line x1="298.5" y1="295.94" x2="301.1" y2="295.94" stroke="#222" stroke-width="1"/>
<text x="298.25" y="298.89" font-family="Liberation Serif, serif" font-weight="bold" stroke="#000" stroke-width="0.22" font-size="7.6" text-anchor="end" textLength="7.2" lengthAdjust="spacingAndGlyphs">80</text>
<line x1="298.5" y1="280.37" x2="301.1" y2="280.37" stroke="#222" stroke-width="1"/>
<text x="298.25" y="283.32" font-family="Liberation Serif, serif" font-weight="bold" stroke="#000" stroke-width="0.22" font-size="7.6" text-anchor="end" textLength="10.8" lengthAdjust="spacingAndGlyphs">100</text>
<line x1="298.5" y1="264.8" x2="301.1" y2="264.8" stroke="#222" stroke-width="1"/>
<text x="298.25" y="267.75" font-family="Liberation Serif, serif" font-weight="bold" stroke="#000" stroke-width="0.22" font-size="7.6" text-anchor="end" textLength="10.8" lengthAdjust="spacingAndGlyphs">120</text>
<line x1="298.5" y1="249.24" x2="301.1" y2="249.24" stroke="#222" stroke-width="1"/>
<text x="298.25" y="252.19" font-family="Liberation Serif, serif" font-weight="bold" stroke="#000" stroke-width="0.22" font-size="7.6" text-anchor="end" textLength="10.8" lengthAdjust="spacingAndGlyphs">140</text>
<line x1="298.5" y1="233.67" x2="301.1" y2="233.67" stroke="#222" stroke-width="1"/>
<text x="298.25" y="236.62" font-family="Liberation Serif, serif" font-weight="bold" stroke="#000" stroke-width="0.22" font-size="7.6" text-anchor="end" textLength="10.8" lengthAdjust="spacingAndGlyphs">160</text>
<line x1="298.5" y1="218.11" x2="301.1" y2="218.11" stroke="#222" stroke-width="1"/>
<text x="298.25" y="221.06" font-family="Liberation Serif, serif" font-weight="bold" stroke="#000" stroke-width="0.22" font-size="7.6" text-anchor="end" textLength="10.8" lengthAdjust="spacingAndGlyphs">180</text>
<rect x="306.35" y="280.3" width="9.6" height="77.9" fill="#fff" stroke="#222" stroke-width="1.1"/>
<rect x="315.95" y="251.1" width="9.1" height="107.1" fill="#666"/>
<path d="M316.25 358.2V251.4H324.75V358.2" stroke="#555" stroke-width="0.7" fill="none"/>
<path d="M320.5 251.1V226.5M318.2 226.5H322.8" stroke="#999" stroke-width="1" fill="none"/>
<rect x="327.96" y="354.8" width="9.6" height="3.4" fill="#fff" stroke="#222" stroke-width="1.1"/>
<rect x="337.56" y="350.9" width="9.1" height="7.3" fill="#666"/>
<path d="M337.86 358.2V351.2H346.36V358.2" stroke="#555" stroke-width="0.7" fill="none"/>
<path d="M332.76 354.8V353.8M330.46 353.8H335.06" stroke="#222" stroke-width="1" fill="none"/>
<path d="M342.11 350.9V347.7M339.81 347.7H344.41" stroke="#999" stroke-width="1" fill="none"/>
<rect x="349.57" y="328.2" width="9.6" height="30" fill="#fff" stroke="#222" stroke-width="1.1"/>
<rect x="359.17" y="337.9" width="9.1" height="20.3" fill="#666"/>
<path d="M359.47 358.2V338.2H367.97V358.2" stroke="#555" stroke-width="0.7" fill="none"/>
<path d="M354.37 328.2V324.5M352.07 324.5H356.67" stroke="#222" stroke-width="1" fill="none"/>
<path d="M363.72 337.9V334.7M361.42 334.7H366.02" stroke="#999" stroke-width="1" fill="none"/>
<rect x="371.18" y="351.6" width="9.6" height="6.6" fill="#fff" stroke="#222" stroke-width="1.1"/>
<rect x="380.78" y="349.4" width="9.1" height="8.8" fill="#666"/>
<path d="M381.08 358.2V349.7H389.58V358.2" stroke="#555" stroke-width="0.7" fill="none"/>
<path d="M375.98 351.6V349M373.68 349H378.28" stroke="#222" stroke-width="1" fill="none"/>
<path d="M385.33 349.4V345.1M383.03 345.1H387.63" stroke="#999" stroke-width="1" fill="none"/>
<rect x="392.79" y="351.6" width="9.6" height="6.6" fill="#fff" stroke="#222" stroke-width="1.1"/>
<rect x="402.39" y="349.9" width="9.1" height="8.3" fill="#666"/>
<path d="M402.69 358.2V350.2H411.19V358.2" stroke="#555" stroke-width="0.7" fill="none"/>
<path d="M397.59 351.6V348.6M395.29 348.6H399.89" stroke="#222" stroke-width="1" fill="none"/>
<path d="M406.94 349.9V347.3M404.64 347.3H409.24" stroke="#999" stroke-width="1" fill="none"/>
<rect x="414.4" y="337.5" width="9.6" height="20.7" fill="#fff" stroke="#222" stroke-width="1.1"/>
<rect x="424" y="319.1" width="9.1" height="39.1" fill="#666"/>
<path d="M424.3 358.2V319.4H432.8V358.2" stroke="#555" stroke-width="0.7" fill="none"/>
<path d="M419.2 337.5V331.4M416.9 331.4H421.5" stroke="#222" stroke-width="1" fill="none"/>
<path d="M428.55 319.1V310.5M426.25 310.5H430.85" stroke="#999" stroke-width="1" fill="none"/>
<rect x="436.01" y="317" width="9.6" height="41.2" fill="#fff" stroke="#222" stroke-width="1.1"/>
<rect x="445.61" y="303.8" width="9.1" height="54.4" fill="#666"/>
<path d="M445.91 358.2V304.1H454.41V358.2" stroke="#555" stroke-width="0.7" fill="none"/>
<path d="M440.81 317V312.7M438.51 312.7H443.11" stroke="#222" stroke-width="1" fill="none"/>
<path d="M450.16 303.8V299.2M447.86 299.2H452.46" stroke="#999" stroke-width="1" fill="none"/>
<rect x="457.62" y="327.6" width="9.6" height="30.6" fill="#fff" stroke="#222" stroke-width="1.1"/>
<rect x="467.22" y="315.7" width="9.1" height="42.5" fill="#666"/>
<path d="M467.52 358.2V316H476.02V358.2" stroke="#555" stroke-width="0.7" fill="none"/>
<path d="M462.42 327.6V324.6M460.12 324.6H464.72" stroke="#222" stroke-width="1" fill="none"/>
<path d="M471.77 315.7V311.9M469.47 311.9H474.07" stroke="#999" stroke-width="1" fill="none"/>
<rect x="479.23" y="313.7" width="9.6" height="44.5" fill="#fff" stroke="#222" stroke-width="1.1"/>
<rect x="488.83" y="288" width="9.1" height="70.2" fill="#666"/>
<path d="M489.13 358.2V288.3H497.63V358.2" stroke="#555" stroke-width="0.7" fill="none"/>
<path d="M484.03 313.7V309M481.73 309H486.33" stroke="#222" stroke-width="1" fill="none"/>
<path d="M493.38 288V282.4M491.08 282.4H495.68" stroke="#999" stroke-width="1" fill="none"/>
<rect x="500.84" y="340.6" width="9.6" height="17.6" fill="#fff" stroke="#222" stroke-width="1.1"/>
<rect x="510.44" y="315.1" width="9.1" height="43.1" fill="#666"/>
<path d="M510.74 358.2V315.4H519.24V358.2" stroke="#555" stroke-width="0.7" fill="none"/>
<path d="M505.64 340.6V337.3M503.34 337.3H507.94" stroke="#222" stroke-width="1" fill="none"/>
<path d="M514.99 315.1V308.2M512.69 308.2H517.29" stroke="#999" stroke-width="1" fill="none"/>
<path d="M311.15 358.2v2.4M320.5 358.2v2.4" stroke="#444" stroke-width="0.8"/>
<path d="M332.76 358.2v2.4M342.11 358.2v2.4" stroke="#444" stroke-width="0.8"/>
<path d="M354.37 358.2v2.4M363.72 358.2v2.4" stroke="#444" stroke-width="0.8"/>
<path d="M375.98 358.2v2.4M385.33 358.2v2.4" stroke="#444" stroke-width="0.8"/>
<path d="M397.59 358.2v2.4M406.94 358.2v2.4" stroke="#444" stroke-width="0.8"/>
<path d="M419.2 358.2v2.4M428.55 358.2v2.4" stroke="#444" stroke-width="0.8"/>
<path d="M440.81 358.2v2.4M450.16 358.2v2.4" stroke="#444" stroke-width="0.8"/>
<path d="M462.42 358.2v2.4M471.77 358.2v2.4" stroke="#444" stroke-width="0.8"/>
<path d="M484.03 358.2v2.4M493.38 358.2v2.4" stroke="#444" stroke-width="0.8"/>
<path d="M505.64 358.2v2.4M514.99 358.2v2.4" stroke="#444" stroke-width="0.8"/>
<line x1="301.1" y1="280.4" x2="525.4" y2="280.4" stroke="#111" stroke-width="1.25" stroke-dasharray="2.2 1.3"/>
<line x1="301.1" y1="289" x2="525.4" y2="289" stroke="#2a2aff" stroke-width="1.25" stroke-dasharray="2.4 1.25"/>
<line x1="301.1" y1="307" x2="525.4" y2="307" stroke="#d6a272" stroke-width="1.25" stroke-dasharray="2.4 1.3"/>
<line x1="301.1" y1="218.11" x2="301.1" y2="358.7" stroke="#222" stroke-width="1.2"/>
<line x1="300.5" y1="358.2" x2="524.8" y2="358.2" stroke="#222" stroke-width="1.2"/>
<line x1="306.85" y1="223.5" x2="324.85" y2="223.5" stroke="#000" stroke-width="1.15"/>
<circle cx="311.58" cy="220.1" r="1.35" fill="#000"/>
<circle cx="314.43" cy="220.1" r="1.35" fill="#000"/>
<circle cx="317.28" cy="220.1" r="1.35" fill="#000"/>
<circle cx="320.12" cy="220.1" r="1.35" fill="#000"/>
<line x1="414.9" y1="308.2" x2="432.9" y2="308.2" stroke="#000" stroke-width="1.15"/>
<circle cx="421.05" cy="304.8" r="1.35" fill="#000"/>
<circle cx="423.9" cy="304.8" r="1.35" fill="#000"/>
<circle cx="426.75" cy="304.8" r="1.35" fill="#000"/>
<line x1="458.12" y1="309.9" x2="476.12" y2="309.9" stroke="#666" stroke-width="1.6"/>
<circle cx="467.12" cy="306.5" r="1.35" fill="#000"/>
<line x1="479.73" y1="276.3" x2="497.73" y2="276.3" stroke="#000" stroke-width="1.15"/>
<circle cx="487.31" cy="272.9" r="1.35" fill="#000"/>
<circle cx="490.16" cy="272.9" r="1.35" fill="#000"/>
<line x1="501.34" y1="303.5" x2="519.34" y2="303.5" stroke="#000" stroke-width="1.15"/>
<circle cx="507.49" cy="300.1" r="1.35" fill="#000"/>
<circle cx="510.34" cy="300.1" r="1.35" fill="#000"/>
<circle cx="513.19" cy="300.1" r="1.35" fill="#000"/>
<line x1="305.85" y1="363.4" x2="324.65" y2="363.4" stroke="#666" stroke-width="1.5"/>
<text transform="translate(317.8,365.3) rotate(-90)" font-family="Liberation Serif, serif" font-weight="bold" stroke="#000" stroke-width="0.22" font-size="7.6" text-anchor="end" textLength="12.5" lengthAdjust="spacingAndGlyphs">WT</text>
<line x1="327.46" y1="363.4" x2="346.26" y2="363.4" stroke="#666" stroke-width="1.5"/>
<text transform="translate(339.63,365.3) rotate(-90)" font-family="Liberation Serif, serif" font-weight="bold" stroke="#000" stroke-width="0.22" font-size="7.6" text-anchor="end" textLength="23.75" lengthAdjust="spacingAndGlyphs">M760R</text>
<line x1="349.07" y1="363.4" x2="367.87" y2="363.4" stroke="#666" stroke-width="1.5"/>
<text transform="translate(361.46,365.3) rotate(-90)" font-family="Liberation Serif, serif" font-weight="bold" stroke="#000" stroke-width="0.22" font-size="7.6" text-anchor="end" textLength="22.92" lengthAdjust="spacingAndGlyphs">Q215K</text>
<line x1="370.68" y1="363.4" x2="389.48" y2="363.4" stroke="#666" stroke-width="1.5"/>
<text transform="translate(383.29,365.3) rotate(-90)" font-family="Liberation Serif, serif" font-weight="bold" stroke="#000" stroke-width="0.22" font-size="7.6" text-anchor="end" textLength="26.25" lengthAdjust="spacingAndGlyphs">G1421R</text>
<line x1="392.29" y1="363.4" x2="411.09" y2="363.4" stroke="#666" stroke-width="1.5"/>
<text transform="translate(405.12,365.3) rotate(-90)" font-family="Liberation Serif, serif" font-weight="bold" stroke="#000" stroke-width="0.22" font-size="7.6" text-anchor="end" textLength="27.49" lengthAdjust="spacingAndGlyphs">V1399M</text>
<line x1="413.9" y1="363.4" x2="432.7" y2="363.4" stroke="#666" stroke-width="1.5"/>
<text transform="translate(426.95,365.3) rotate(-90)" font-family="Liberation Serif, serif" font-weight="bold" stroke="#000" stroke-width="0.22" font-size="7.6" text-anchor="end" textLength="25.42" lengthAdjust="spacingAndGlyphs">A1046E</text>
<line x1="435.51" y1="363.4" x2="454.31" y2="363.4" stroke="#666" stroke-width="1.5"/>
<text transform="translate(448.78,365.3) rotate(-90)" font-family="Liberation Serif, serif" font-weight="bold" stroke="#000" stroke-width="0.22" font-size="7.6" text-anchor="end" textLength="25.84" lengthAdjust="spacingAndGlyphs">E1364K</text>
<line x1="457.12" y1="363.4" x2="475.92" y2="363.4" stroke="#666" stroke-width="1.5"/>
<text transform="translate(470.61,365.3) rotate(-90)" font-family="Liberation Serif, serif" font-weight="bold" stroke="#000" stroke-width="0.22" font-size="7.6" text-anchor="end" textLength="22.5" lengthAdjust="spacingAndGlyphs">D953H</text>
<line x1="478.73" y1="363.4" x2="497.53" y2="363.4" stroke="#666" stroke-width="1.5"/>
<text transform="translate(492.44,365.3) rotate(-90)" font-family="Liberation Serif, serif" font-weight="bold" stroke="#000" stroke-width="0.22" font-size="7.6" text-anchor="end" textLength="26.25" lengthAdjust="spacingAndGlyphs">Q1045R</text>
<line x1="500.34" y1="363.4" x2="519.14" y2="363.4" stroke="#666" stroke-width="1.5"/>
<text transform="translate(514.27,365.3) rotate(-90)" font-family="Liberation Serif, serif" font-weight="bold" stroke="#000" stroke-width="0.22" font-size="7.6" text-anchor="end" textLength="21.67" lengthAdjust="spacingAndGlyphs">E292V</text>
<text x="9.2" y="11.8" font-family="Liberation Serif, serif" font-weight="bold" stroke="#000" stroke-width="0.22" font-size="11.9" text-anchor="start">A</text>
<text x="277.9" y="12" font-family="Liberation Serif, serif" font-weight="bold" stroke="#000" stroke-width="0.22" font-size="11.1" text-anchor="start">B</text>
<text x="8.2" y="212.1" font-family="Liberation Serif, serif" font-weight="bold" stroke="#000" stroke-width="0.22" font-size="11.4" text-anchor="start">C</text>
<text x="277.9" y="213.2" font-family="Liberation Serif, serif" font-weight="bold" stroke="#000" stroke-width="0.22" font-size="11.6" text-anchor="start">D</text>
<text x="65.9" y="11.6" font-family="Liberation Serif, serif" font-weight="bold" stroke="#000" stroke-width="0.22" font-size="11.7" text-anchor="start" textLength="153.7" lengthAdjust="spacingAndGlyphs">Proteolytic cleavage of ABCA3</text>
<text x="354.4" y="13.4" font-family="Liberation Serif, serif" font-weight="bold" stroke="#000" stroke-width="0.22" font-size="11.6" text-anchor="start" textLength="136.1" lengthAdjust="spacingAndGlyphs">Volume of ABCA3<tspan font-size="88%" dy="-3.3">+</tspan><tspan dy="3.3"> vesicles</tspan></text>
<text x="32.9" y="211.5" font-family="Liberation Serif, serif" font-weight="bold" stroke="#000" stroke-width="0.22" font-size="10.4" text-anchor="start" textLength="231.8" lengthAdjust="spacingAndGlyphs">Transport of propargyl-choline into ABCA3<tspan font-size="78%" dy="-3.1">+</tspan><tspan dy="3.1"> vesicle</tspan></text>
<text x="359.5" y="213.5" font-family="Liberation Serif, serif" font-weight="bold" stroke="#000" stroke-width="0.22" font-size="11.6" text-anchor="start" textLength="107.9" lengthAdjust="spacingAndGlyphs">% Wild type like cells</text>
<text transform="translate(17.3,134.6) rotate(-90)" font-family="Liberation Serif, serif" font-weight="bold" stroke="#000" stroke-width="0.22" font-size="9.2" textLength="106" lengthAdjust="spacingAndGlyphs">Ratio of 170/190 kDa (%WT nt)</text>
<text transform="translate(284.3,150.2) rotate(-90)" font-family="Liberation Serif, serif" font-weight="bold" stroke="#000" stroke-width="0.22" font-size="8.5" textLength="126.8" lengthAdjust="spacingAndGlyphs">Volume of ABCA3<tspan font-size="72%" dy="-2.6">+</tspan><tspan dy="2.6"> vesicles (%WT nt)</tspan></text>
<text transform="translate(7.3,349.4) rotate(-90)" font-family="Liberation Serif, serif" font-weight="bold" stroke="#000" stroke-width="0.22" font-size="8.2" textLength="129.2" lengthAdjust="spacingAndGlyphs">Fluorescence intensity of propargyl-choline per</text>
<text transform="translate(15,355.6) rotate(-90)" font-family="Liberation Serif, serif" font-weight="bold" stroke="#000" stroke-width="0.22" font-size="8.3" textLength="141.2" lengthAdjust="spacingAndGlyphs">ABCA3<tspan font-size="65%" dy="-2.4">+</tspan><tspan dy="2.4"> vesicles, in all ABCA3</tspan><tspan font-size="65%" dy="-2.4">+</tspan><tspan dy="2.4"> vesicles (%WT nt)</tspan></text>
<text transform="translate(284.3,346.5) rotate(-90)" font-family="Liberation Serif, serif" font-weight="bold" stroke="#000" stroke-width="0.22" font-size="8.5" textLength="121.3" lengthAdjust="spacingAndGlyphs">% WT like ABCA3<tspan font-size="72%" dy="-2.6">+</tspan><tspan dy="2.6"> cells (% WT nt)</tspan></text>
<text x="531.4" y="84" font-family="Liberation Serif, serif" font-weight="bold" stroke="#000" stroke-width="0.22" font-size="6.4" text-anchor="start" textLength="14.4" lengthAdjust="spacingAndGlyphs">Mean</text>
<text x="535.1" y="96.1" font-family="Liberation Serif, serif" font-weight="bold" stroke="#000" stroke-width="0.22" font-size="6.4" text-anchor="start" textLength="11.6" lengthAdjust="spacingAndGlyphs">1 SD</text>
<text x="535.1" y="121" font-family="Liberation Serif, serif" font-weight="bold" stroke="#000" stroke-width="0.22" font-size="6.4" text-anchor="start" textLength="11.6" lengthAdjust="spacingAndGlyphs">3 SD</text>
<line x1="530.5" y1="94" x2="534.2" y2="94" stroke="#444" stroke-width="1.1"/>
<line x1="530.5" y1="118.9" x2="534.2" y2="118.9" stroke="#444" stroke-width="1.1"/>
<text x="529" y="282.4" font-family="Liberation Serif, serif" font-weight="bold" stroke="#000" stroke-width="0.22" font-size="6.6" text-anchor="start" textLength="14.4" lengthAdjust="spacingAndGlyphs">Mean</text>
<text x="532.7" y="291.5" font-family="Liberation Serif, serif" font-weight="bold" stroke="#000" stroke-width="0.22" font-size="6.6" text-anchor="start" textLength="11.6" lengthAdjust="spacingAndGlyphs">1 SD</text>
<text x="532.7" y="309.5" font-family="Liberation Serif, serif" font-weight="bold" stroke="#000" stroke-width="0.22" font-size="6.6" text-anchor="start" textLength="11.6" lengthAdjust="spacingAndGlyphs">3 SD</text>
<line x1="528.1" y1="289.4" x2="531.8" y2="289.4" stroke="#444" stroke-width="1.1"/>
<line x1="528.1" y1="307.4" x2="531.8" y2="307.4" stroke="#444" stroke-width="1.1"/>
<text x="34.3" y="408.6" font-family="Liberation Serif, serif" font-weight="bold" stroke="#000" stroke-width="0.22" font-size="9.3" text-anchor="start" textLength="91.2" lengthAdjust="spacingAndGlyphs">Concentration of HCQ</text>
<rect x="134.9" y="402.6" width="17.4" height="8.6" rx="0.8" fill="#fff" stroke="#111" stroke-width="1.3"/>
<text x="155" y="409.3" font-family="Liberation Serif, serif" font-weight="bold" stroke="#000" stroke-width="0.22" font-size="9.3" text-anchor="start" textLength="7.8" lengthAdjust="spacingAndGlyphs">nt</text>
<rect x="176.2" y="403.0" width="16.2" height="8.2" fill="#6a6a6a"/>
<text x="194.5" y="411" font-family="Liberation Serif, serif" font-weight="bold" stroke="#000" stroke-width="0.22" font-size="9.3" text-anchor="start" textLength="24.6" lengthAdjust="spacingAndGlyphs">10 µM</text>
</svg>
</body></html>
